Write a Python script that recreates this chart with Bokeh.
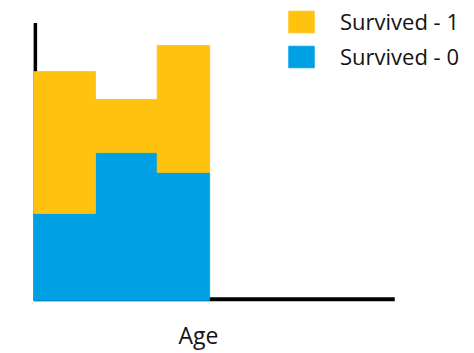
from bokeh.plotting import figure
from bokeh.models import Legend, LegendItem, Label, Range1d
from bokeh.embed import file_html
from bokeh.resources import INLINE

# Data (Age histogram, stacked by Survived)
age_edges = [0, 20, 40, 57]
died = [29, 49.3, 42.7]        # Survived - 0
survived = [47.3, 17.7, 42.3]  # Survived - 1
axis_x_end = 117
axis_y_top = 92.5
series_labels = ["Survived - 1", "Survived - 0"]
x_label = "Age"

W, H = 474, 353
p = figure(width=W, height=H, output_backend="svg", toolbar_location=None,
           min_border=0, x_axis_type=None, y_axis_type=None)
p.outline_line_color = None
p.grid.visible = False
p.x_range = Range1d(-10.8, 142.85)
p.y_range = Range1d(-17.67, 100)

YEL = "#FFC20E"
BLU = "#00A0E4"

# axes lines (drawn under bars)
p.line([0.5, 0.5], [0, axis_y_top], line_color="black", line_width=3.5)
p.line([0, axis_x_end], [0.45, 0.45], line_color="black", line_width=4)

left = age_edges[:-1]
right = age_edges[1:]
tops = [d + s for d, s in zip(died, survived)]
r0 = p.quad(left=left, right=right, bottom=[0] * len(died), top=died,
            fill_color=BLU, line_color=BLU, line_width=0.8)
r1 = p.quad(left=left, right=right, bottom=died, top=tops,
            fill_color=YEL, line_color=YEL, line_width=0.8)

FONT = "Open Sans"
TXT = "#141414"
legend = Legend(items=[LegendItem(label=series_labels[0], renderers=[r1]),
                       LegendItem(label=series_labels[1], renderers=[r0])],
                location=(285, 282), orientation="vertical",
                glyph_width=32, glyph_height=27, label_height=27,
                spacing=5, padding=0, margin=0, label_standoff=23,
                border_line_color=None, background_fill_alpha=0,
                label_text_font=FONT, label_text_font_size="22px",
                label_text_color=TXT)
p.add_layout(legend)

p.add_layout(Label(x=178, y=19, x_units="screen", y_units="screen",
                   text=x_label, text_font=FONT, text_font_size="23px",
                   text_color=TXT, text_baseline="alphabetic"))

open("out.html", "w").write(file_html(p, INLINE))
